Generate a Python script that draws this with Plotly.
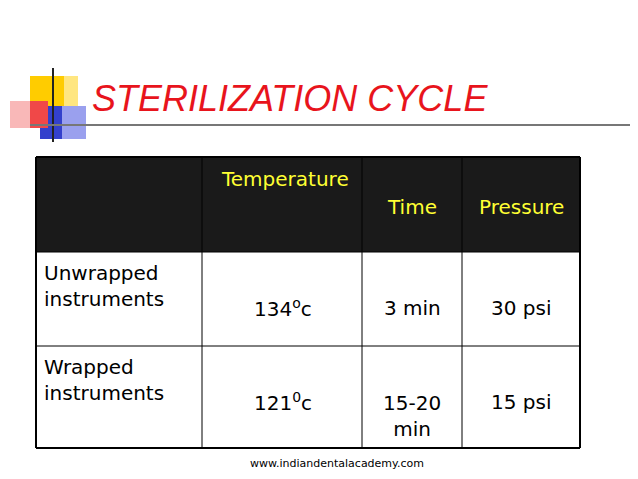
import plotly.graph_objects as go

# table content
title = "STERILIZATION CYCLE"
headers = ["", "Temperature", "Time", "Pressure"]
row_labels = ["Unwrapped<br>instruments", "Wrapped<br>instruments"]
temps = ["134<sup>o</sup>c", "121<sup>0</sup>c"]
times = ["3 min", "15-20<br>min"]
pressures = ["30 psi", "15 psi"]
footer = "www.indiandentalacademy.com"

col_x = [36, 202, 362, 462, 580]
row_y = [157, 252, 346, 448]
font = "DejaVu Sans"
off = 8  # page body margin

fig = go.Figure()
fig.add_trace(go.Scatter(x=[0, 638], y=[0, 479], mode="markers", marker_opacity=0,
                         hoverinfo="skip", showlegend=False))

shapes = []
# decoration
shapes.append(dict(type="rect", x0=30, x1=64, y0=76, y1=110, fillcolor="#ffcc00", line_width=0, layer="below"))
shapes.append(dict(type="rect", x0=64, x1=78, y0=76, y1=110, fillcolor="#ffe680", line_width=0, layer="below"))
shapes.append(dict(type="rect", x0=40, x1=80, y0=106, y1=139, fillcolor="#3340cc", line_width=0, layer="below"))
shapes.append(dict(type="rect", x0=62, x1=86, y0=106, y1=139, fillcolor="#9aa0ee", line_width=0, layer="below"))
shapes.append(dict(type="rect", x0=10, x1=30, y0=101, y1=128, fillcolor="#f9b8b8", line_width=0))
shapes.append(dict(type="rect", x0=30, x1=48, y0=101, y1=128, fillcolor="#f04848", line_width=0))
shapes.append(dict(type="line", x0=53, x1=53, y0=68, y1=142, line=dict(color="#222", width=2)))
shapes.append(dict(type="line", x0=30, x1=638, y0=125, y1=125, line=dict(color="#777", width=2)))

# table
shapes.append(dict(type="rect", x0=col_x[0], x1=col_x[-1], y0=row_y[0], y1=row_y[1],
                   fillcolor="#1a1a1a", line_width=0, layer="below"))
for x in col_x:
    w = 2 if x in (col_x[0], col_x[-1]) else 1
    shapes.append(dict(type="line", x0=x, x1=x, y0=row_y[0], y1=row_y[-1], line=dict(color="black", width=w)))
for y in row_y:
    w = 2 if y in (row_y[0], row_y[-1]) else 1
    shapes.append(dict(type="line", x0=col_x[0], x1=col_x[-1], y0=y, y1=y, line=dict(color="black", width=w)))

ann = []
def txt(x, y, s, size=20, color="black", xa="center", ya="middle", align="center"):
    ann.append(dict(x=x, y=y, text=s, showarrow=False, xanchor=xa, yanchor=ya,
                    font=dict(family=font, size=size, color=color), align=align))

ann.append(dict(x=90, y=98, text="<i>" + title + "</i>", showarrow=False, xanchor="left", yanchor="middle",
                font=dict(family="Liberation Sans", size=36, color="#e8141c")))
txt(285, 179, headers[1], color="#ffff33")
txt(412, 207, headers[2], color="#ffff33")
txt(521, 207, headers[3], color="#ffff33")
for i in range(2):
    top = row_y[i + 1]
    txt(42, top + 34, row_labels[i], xa="left", align="left")
    txt(283, top + 56, temps[i])
    if "<br>" in times[i]:
        txt(412, top + 70, times[i])
    else:
        txt(412, top + 56, times[i])
    txt(521, top + 56, pressures[i])
txt(337, 463, footer, size=11)

fig.update_layout(shapes=shapes, annotations=ann, width=638, height=479,
                  margin=dict(l=0, r=0, t=0, b=0), paper_bgcolor="white", plot_bgcolor="white",
                  xaxis=dict(range=[off, 638 + off], visible=False, fixedrange=True),
                  yaxis=dict(range=[479 + off, off], visible=False, fixedrange=True))
fig.write_html("out.html")
